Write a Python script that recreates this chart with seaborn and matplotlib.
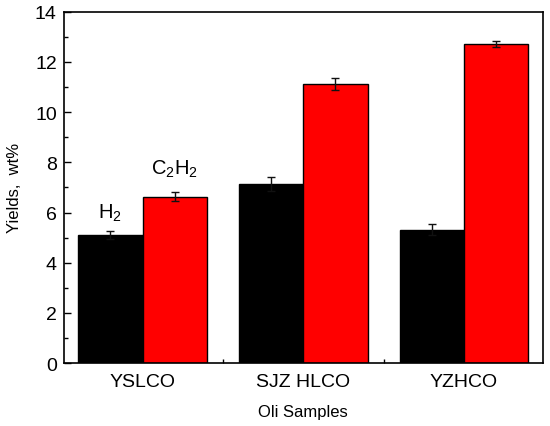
import numpy as np
import pandas as pd
import seaborn as sns
import matplotlib.pyplot as plt

samples = ["YSLCO", "SJZ HLCO", "YZHCO"]
h2 = [5.11, 7.13, 5.32]
h2_err = [0.17, 0.27, 0.23]
c2h2 = [6.63, 11.13, 12.71]
c2h2_err = [0.17, 0.23, 0.13]

df = pd.DataFrame({
    "sample": samples * 2,
    "gas": ["H2"] * 3 + ["C2H2"] * 3,
    "yield": h2 + c2h2,
    "err": h2_err + c2h2_err,
})

sns.set_style("ticks")
plt.rcParams["font.family"] = ["Liberation Sans", "DejaVu Sans"]
plt.rcParams["mathtext.fontset"] = "custom"
plt.rcParams["mathtext.rm"] = "Liberation Sans"
plt.rcParams["text.color"] = "black"
plt.rcParams["axes.labelcolor"] = "black"
plt.rcParams["xtick.color"] = "black"
plt.rcParams["ytick.color"] = "black"

fig = plt.figure(figsize=(5.5, 4.27), dpi=100)
ax = fig.add_axes([0.116, 0.1475, 0.871, 0.8225])

sns.barplot(data=df, x="sample", y="yield", hue="gas", order=samples,
            hue_order=["H2", "C2H2"], palette=["#000000", "#ff0000"],
            saturation=1, edgecolor="black", linewidth=1, errorbar=None,
            width=0.8, legend=False, ax=ax)

# error bars on top of each bar, placed from the drawn patches
for p, e in zip(ax.patches, df["err"]):
    xc = p.get_x() + p.get_width() / 2
    ax.errorbar(xc, p.get_height(), yerr=e, fmt="none", ecolor="#111111",
                elinewidth=1, capsize=3, capthick=1, zorder=5)

ax.text(-0.2, 6.0, r"H$_2$", fontsize=14.5, ha="center", va="center")
ax.text(0.2, 7.75, r"C$_2$H$_2$", fontsize=14.5, ha="center", va="center")

ax.set_xlim(-0.49, 2.49)
ax.set_ylim(0, 14)
ax.set_yticks(np.arange(0, 15, 2))
ax.set_yticks(np.arange(1, 14, 2), minor=True)
ax.set_xticks([0.5, 1.5], minor=True)
ax.tick_params(axis="y", which="major", direction="in", length=5, width=1,
               labelsize=14, pad=5)
ax.tick_params(axis="y", which="minor", direction="in", length=3, width=1)
ax.tick_params(axis="x", which="major", direction="in", length=0,
               labelsize=14, pad=7)
ax.tick_params(axis="x", which="minor", direction="in", length=3, width=1)

for s in ax.spines.values():
    s.set_linewidth(1.2)
    s.set_color("black")

ax.set_xlabel("Oli Samples", fontsize=12, labelpad=10)
ax.set_ylabel("Yields,  wt%", fontsize=12, labelpad=9)

fig.savefig("out.png", dpi=100)
